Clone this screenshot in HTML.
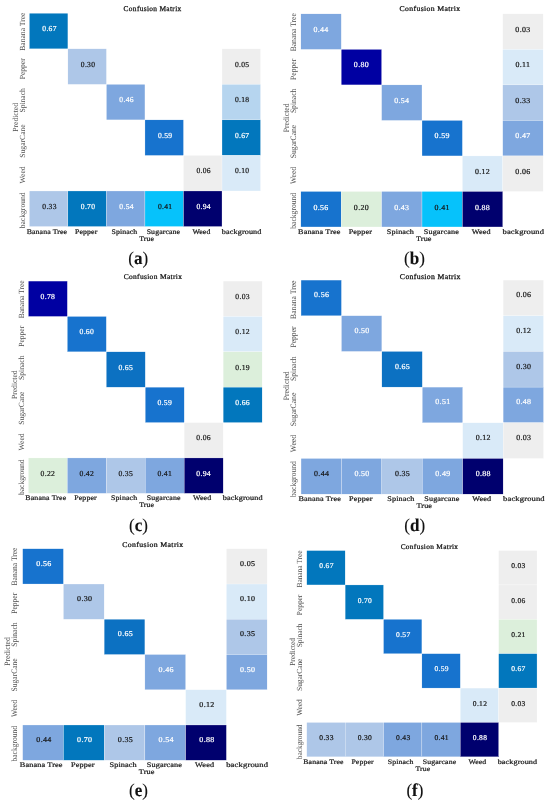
<!DOCTYPE html>
<html lang="en"><head><meta charset="utf-8"><title>Confusion Matrices</title>
<style>
html,body{margin:0;padding:0;background:#fff;}
body{width:550px;height:805px;overflow:hidden;}
svg{display:block;text-rendering:geometricPrecision;font-family:"Liberation Serif","DejaVu Serif",serif;}
rect{stroke:#fff;stroke-width:.25px;}
text{text-anchor:middle;}
.v{font-size:7.6px;letter-spacing:.3px;stroke-width:.2px;}
.w{fill:#fff;stroke:#fff;}
.k{fill:#151515;stroke:#151515;}
.xl{font-size:7.05px;fill:#1a1a1a;stroke:#1a1a1a;stroke-width:.22px;letter-spacing:.1px;}
.yl{font-size:7.8px;fill:#4d4d4d;}
.ti{font-size:7.4px;fill:#111;stroke:#111;stroke-width:.25px;letter-spacing:.33px;}
.pl{font-size:18px;fill:#111;stroke:#111;stroke-width:.12px;}
.pl tspan{font-weight:bold;}
</style></head><body>
<svg width="550" height="805" viewBox="0 0 550 805">
<rect width="550" height="805" fill="#fff"/>
<g id="panel-a" transform="translate(29.375,13.275) scale(0.9983,1.0000)">
<text class="ti" transform="translate(123.40 -2.30)">Confusion Matrix</text>
<rect x="0.00" y="0.00" width="38.59" height="35.54" fill="#0277BD"/>
<text class="v w" transform="translate(20.20 17.97)">0.67</text>
<rect x="38.59" y="35.54" width="38.59" height="35.54" fill="#AEC7E8"/>
<text class="v k" transform="translate(58.79 53.51)">0.30</text>
<rect x="192.96" y="35.54" width="38.59" height="35.54" fill="#EEEEEE"/>
<text class="v k" transform="translate(213.15 53.51)">0.05</text>
<rect x="77.18" y="71.08" width="38.59" height="35.54" fill="#7EA7DF"/>
<text class="v w" transform="translate(97.38 89.05)">0.46</text>
<rect x="192.96" y="71.08" width="38.59" height="35.54" fill="#B6D5EF"/>
<text class="v k" transform="translate(213.15 89.05)">0.18</text>
<rect x="115.78" y="106.62" width="38.59" height="35.54" fill="#1773CE"/>
<text class="v w" transform="translate(135.97 124.60)">0.59</text>
<rect x="192.96" y="106.62" width="38.59" height="35.54" fill="#0277BD"/>
<text class="v w" transform="translate(213.15 124.60)">0.67</text>
<rect x="154.37" y="142.17" width="38.59" height="35.54" fill="#EEEEEE"/>
<text class="v k" transform="translate(174.56 160.14)">0.06</text>
<rect x="192.96" y="142.17" width="38.59" height="35.54" fill="#D9EAF8"/>
<text class="v k" transform="translate(213.15 160.14)">0.10</text>
<rect x="0.00" y="177.71" width="38.59" height="35.54" fill="#AEC7E8"/>
<text class="v k" transform="translate(20.20 195.68)">0.33</text>
<rect x="38.59" y="177.71" width="38.59" height="35.54" fill="#0277BD"/>
<text class="v w" transform="translate(58.79 195.68)">0.70</text>
<rect x="77.18" y="177.71" width="38.59" height="35.54" fill="#7EA7DF"/>
<text class="v w" transform="translate(97.38 195.68)">0.54</text>
<rect x="115.78" y="177.71" width="38.59" height="35.54" fill="#06C2FB"/>
<text class="v k" transform="translate(135.97 195.68)">0.41</text>
<rect x="154.37" y="177.71" width="38.59" height="35.54" fill="#00006E"/>
<text class="v w" transform="translate(174.56 195.68)">0.94</text>
<text class="xl" transform="translate(17.60 220.82) scale(1.11 1)">Banana Tree</text>
<text class="xl" transform="translate(56.89 220.82) scale(1.11 1)">Pepper</text>
<text class="xl" transform="translate(95.18 220.82) scale(1.11 1)">Spinach</text>
<text class="xl" transform="translate(134.27 220.82) scale(1.11 1)">Sugarcane</text>
<text class="xl" transform="translate(172.36 220.82) scale(1.11 1)">Weed</text>
<text class="xl" transform="translate(212.65 220.82) scale(1.15995 1)">background</text>
<text class="xl" transform="translate(117.50 227.82) scale(1.11 1)">True</text>
<text class="yl" transform="translate(-4.10 18.37) rotate(-90) scale(0.975 1)">Banana Tree</text>
<text class="yl" transform="translate(-4.10 55.51) rotate(-90) scale(0.975 1)">Pepper</text>
<text class="yl" transform="translate(-4.10 87.05) rotate(-90) scale(0.975 1)">Spinach</text>
<text class="yl" transform="translate(-4.10 127.70) rotate(-90) scale(0.975 1)">SugarCane</text>
<text class="yl" transform="translate(-4.10 161.64) rotate(-90) scale(0.975 1)">Weed</text>
<text class="yl" transform="translate(-4.10 197.08) rotate(-90) scale(0.975 1)">background</text>
<text class="yl" transform="translate(-10.90 104.10) rotate(-90) scale(0.975 1)">Predicted</text>
</g>
<text class="pl" transform="translate(138.2,263.8) scale(0.945,1)">(<tspan>a</tspan>)</text>
<g id="panel-b" transform="translate(300.875,13.875) scale(1.0462,0.9993)">
<text class="ti" transform="translate(123.40 -3.10)">Confusion Matrix</text>
<rect x="0.00" y="0.00" width="38.59" height="35.54" fill="#7EA7DF"/>
<text class="v w" transform="translate(19.30 18.07)">0.44</text>
<rect x="192.96" y="0.00" width="38.59" height="35.54" fill="#EEEEEE"/>
<text class="v k" transform="translate(212.25 18.07)">0.03</text>
<rect x="38.59" y="35.54" width="38.59" height="35.54" fill="#0000A2"/>
<text class="v w" transform="translate(57.89 53.61)">0.80</text>
<rect x="192.96" y="35.54" width="38.59" height="35.54" fill="#D9EAF8"/>
<text class="v k" transform="translate(212.25 53.61)">0.11</text>
<rect x="77.18" y="71.08" width="38.59" height="35.54" fill="#7EA7DF"/>
<text class="v w" transform="translate(96.48 89.15)">0.54</text>
<rect x="192.96" y="71.08" width="38.59" height="35.54" fill="#AEC7E8"/>
<text class="v k" transform="translate(212.25 89.15)">0.33</text>
<rect x="115.78" y="106.62" width="38.59" height="35.54" fill="#1773CE"/>
<text class="v w" transform="translate(135.07 124.70)">0.59</text>
<rect x="192.96" y="106.62" width="38.59" height="35.54" fill="#7EA7DF"/>
<text class="v w" transform="translate(212.25 124.70)">0.47</text>
<rect x="154.37" y="142.17" width="38.59" height="35.54" fill="#D9EAF8"/>
<text class="v k" transform="translate(173.66 160.24)">0.12</text>
<rect x="192.96" y="142.17" width="38.59" height="35.54" fill="#EEEEEE"/>
<text class="v k" transform="translate(212.25 160.24)">0.06</text>
<rect x="0.00" y="177.71" width="38.59" height="35.54" fill="#1773CE"/>
<text class="v w" transform="translate(19.30 195.78)">0.56</text>
<rect x="38.59" y="177.71" width="38.59" height="35.54" fill="#DCEFDB"/>
<text class="v k" transform="translate(57.89 195.78)">0.20</text>
<rect x="77.18" y="177.71" width="38.59" height="35.54" fill="#7EA7DF"/>
<text class="v w" transform="translate(96.48 195.78)">0.43</text>
<rect x="115.78" y="177.71" width="38.59" height="35.54" fill="#06C2FB"/>
<text class="v k" transform="translate(135.07 195.78)">0.41</text>
<rect x="154.37" y="177.71" width="38.59" height="35.54" fill="#00006E"/>
<text class="v w" transform="translate(173.66 195.78)">0.88</text>
<text class="xl" transform="translate(17.60 220.38) scale(1.11 1)">Banana Tree</text>
<text class="xl" transform="translate(56.89 220.38) scale(1.11 1)">Pepper</text>
<text class="xl" transform="translate(95.18 220.38) scale(1.11 1)">Spinach</text>
<text class="xl" transform="translate(134.27 220.38) scale(1.11 1)">Sugarcane</text>
<text class="xl" transform="translate(172.36 220.38) scale(1.11 1)">Weed</text>
<text class="xl" transform="translate(212.65 220.38) scale(1.15995 1)">background</text>
<text class="xl" transform="translate(117.50 227.38) scale(1.11 1)">True</text>
<text class="yl" transform="translate(-4.80 18.37) rotate(-90) scale(0.975 1)">Banana Tree</text>
<text class="yl" transform="translate(-4.80 55.51) rotate(-90) scale(0.975 1)">Pepper</text>
<text class="yl" transform="translate(-4.80 87.05) rotate(-90) scale(0.975 1)">Spinach</text>
<text class="yl" transform="translate(-4.80 127.70) rotate(-90) scale(0.975 1)">SugarCane</text>
<text class="yl" transform="translate(-4.80 161.64) rotate(-90) scale(0.975 1)">Weed</text>
<text class="yl" transform="translate(-4.80 197.08) rotate(-90) scale(0.975 1)">background</text>
<text class="yl" transform="translate(-11.60 104.10) rotate(-90) scale(0.975 1)">Predicted</text>
</g>
<text class="pl" transform="translate(414.5,263.8) scale(0.945,1)">(<tspan>b</tspan>)</text>
<g id="panel-c" transform="translate(28.375,281.075) scale(1.0095,0.9953)">
<text class="ti" transform="translate(123.40 -1.81)">Confusion Matrix</text>
<rect x="0.00" y="0.00" width="38.59" height="35.54" fill="#0000A2"/>
<text class="v w" transform="translate(19.30 17.97)">0.78</text>
<rect x="192.96" y="0.00" width="38.59" height="35.54" fill="#EEEEEE"/>
<text class="v k" transform="translate(212.25 17.97)">0.03</text>
<rect x="38.59" y="35.54" width="38.59" height="35.54" fill="#1773CE"/>
<text class="v w" transform="translate(57.89 53.51)">0.60</text>
<rect x="192.96" y="35.54" width="38.59" height="35.54" fill="#D9EAF8"/>
<text class="v k" transform="translate(212.25 53.51)">0.12</text>
<rect x="77.18" y="71.08" width="38.59" height="35.54" fill="#0C71C2"/>
<text class="v w" transform="translate(96.48 89.05)">0.65</text>
<rect x="192.96" y="71.08" width="38.59" height="35.54" fill="#DCEFDB"/>
<text class="v k" transform="translate(212.25 89.05)">0.19</text>
<rect x="115.78" y="106.62" width="38.59" height="35.54" fill="#1773CE"/>
<text class="v w" transform="translate(135.07 124.60)">0.59</text>
<rect x="192.96" y="106.62" width="38.59" height="35.54" fill="#0277BD"/>
<text class="v w" transform="translate(212.25 124.60)">0.66</text>
<rect x="154.37" y="142.17" width="38.59" height="35.54" fill="#EEEEEE"/>
<text class="v k" transform="translate(173.66 160.14)">0.06</text>
<rect x="0.00" y="177.71" width="38.59" height="35.54" fill="#DCEFDB"/>
<text class="v k" transform="translate(19.30 195.68)">0.22</text>
<rect x="38.59" y="177.71" width="38.59" height="35.54" fill="#7EA7DF"/>
<text class="v k" transform="translate(57.89 195.68)">0.42</text>
<rect x="77.18" y="177.71" width="38.59" height="35.54" fill="#AEC7E8"/>
<text class="v k" transform="translate(96.48 195.68)">0.35</text>
<rect x="115.78" y="177.71" width="38.59" height="35.54" fill="#7EA7DF"/>
<text class="v k" transform="translate(135.07 195.68)">0.41</text>
<rect x="154.37" y="177.71" width="38.59" height="35.54" fill="#00006E"/>
<text class="v w" transform="translate(173.66 195.68)">0.94</text>
<text class="xl" transform="translate(17.30 220.06) scale(1.11 1)">Banana Tree</text>
<text class="xl" transform="translate(56.59 220.06) scale(1.11 1)">Pepper</text>
<text class="xl" transform="translate(94.88 220.06) scale(1.11 1)">Spinach</text>
<text class="xl" transform="translate(133.97 220.06) scale(1.11 1)">Sugarcane</text>
<text class="xl" transform="translate(172.06 220.06) scale(1.11 1)">Weed</text>
<text class="xl" transform="translate(212.35 220.06) scale(1.15995 1)">background</text>
<text class="xl" transform="translate(117.20 227.09) scale(1.11 1)">True</text>
<text class="yl" transform="translate(-4.80 18.37) rotate(-90) scale(0.975 1)">Banana Tree</text>
<text class="yl" transform="translate(-4.80 55.51) rotate(-90) scale(0.975 1)">Pepper</text>
<text class="yl" transform="translate(-4.80 87.05) rotate(-90) scale(0.975 1)">Spinach</text>
<text class="yl" transform="translate(-4.80 127.70) rotate(-90) scale(0.975 1)">SugarCane</text>
<text class="yl" transform="translate(-4.80 161.64) rotate(-90) scale(0.975 1)">Weed</text>
<text class="yl" transform="translate(-4.80 197.08) rotate(-90) scale(0.975 1)">background</text>
<text class="yl" transform="translate(-11.60 104.10) rotate(-90) scale(0.975 1)">Predicted</text>
</g>
<text class="pl" transform="translate(138.5,530.9) scale(0.945,1)">(<tspan>c</tspan>)</text>
<g id="panel-d" transform="translate(301.025,280.075) scale(1.0473,1.0038)">
<text class="ti" transform="translate(123.40 -1.49)">Confusion Matrix</text>
<rect x="0.00" y="0.00" width="38.59" height="35.54" fill="#1773CE"/>
<text class="v w" transform="translate(19.70 17.07)">0.56</text>
<rect x="192.96" y="0.00" width="38.59" height="35.54" fill="#EEEEEE"/>
<text class="v k" transform="translate(212.65 17.07)">0.06</text>
<rect x="38.59" y="35.54" width="38.59" height="35.54" fill="#7EA7DF"/>
<text class="v w" transform="translate(58.29 52.61)">0.50</text>
<rect x="192.96" y="35.54" width="38.59" height="35.54" fill="#D9EAF8"/>
<text class="v k" transform="translate(212.65 52.61)">0.12</text>
<rect x="77.18" y="71.08" width="38.59" height="35.54" fill="#0C71C2"/>
<text class="v w" transform="translate(96.88 88.15)">0.65</text>
<rect x="192.96" y="71.08" width="38.59" height="35.54" fill="#AEC7E8"/>
<text class="v k" transform="translate(212.65 88.15)">0.30</text>
<rect x="115.78" y="106.62" width="38.59" height="35.54" fill="#7EA7DF"/>
<text class="v w" transform="translate(135.47 123.70)">0.51</text>
<rect x="192.96" y="106.62" width="38.59" height="35.54" fill="#7EA7DF"/>
<text class="v w" transform="translate(212.65 123.70)">0.48</text>
<rect x="154.37" y="142.17" width="38.59" height="35.54" fill="#D9EAF8"/>
<text class="v k" transform="translate(174.06 159.24)">0.12</text>
<rect x="192.96" y="142.17" width="38.59" height="35.54" fill="#EEEEEE"/>
<text class="v k" transform="translate(212.65 159.24)">0.03</text>
<rect x="0.00" y="177.71" width="38.59" height="35.54" fill="#7EA7DF"/>
<text class="v k" transform="translate(19.70 194.78)">0.44</text>
<rect x="38.59" y="177.71" width="38.59" height="35.54" fill="#7EA7DF"/>
<text class="v w" transform="translate(58.29 194.78)">0.50</text>
<rect x="77.18" y="177.71" width="38.59" height="35.54" fill="#AEC7E8"/>
<text class="v k" transform="translate(96.88 194.78)">0.35</text>
<rect x="115.78" y="177.71" width="38.59" height="35.54" fill="#7EA7DF"/>
<text class="v w" transform="translate(135.47 194.78)">0.49</text>
<rect x="154.37" y="177.71" width="38.59" height="35.54" fill="#00006E"/>
<text class="v w" transform="translate(174.06 194.78)">0.88</text>
<text class="xl" transform="translate(17.80 220.20) scale(1.11 1)">Banana Tree</text>
<text class="xl" transform="translate(57.09 220.20) scale(1.11 1)">Pepper</text>
<text class="xl" transform="translate(95.38 220.20) scale(1.11 1)">Spinach</text>
<text class="xl" transform="translate(134.47 220.20) scale(1.11 1)">Sugarcane</text>
<text class="xl" transform="translate(172.56 220.20) scale(1.11 1)">Weed</text>
<text class="xl" transform="translate(212.85 220.20) scale(1.15995 1)">background</text>
<text class="xl" transform="translate(117.70 227.17) scale(1.11 1)">True</text>
<text class="yl" transform="translate(-5.10 19.57) rotate(-90) scale(0.975 1)">Banana Tree</text>
<text class="yl" transform="translate(-5.10 56.71) rotate(-90) scale(0.975 1)">Pepper</text>
<text class="yl" transform="translate(-5.10 88.25) rotate(-90) scale(0.975 1)">Spinach</text>
<text class="yl" transform="translate(-5.10 128.90) rotate(-90) scale(0.975 1)">SugarCane</text>
<text class="yl" transform="translate(-5.10 162.84) rotate(-90) scale(0.975 1)">Weed</text>
<text class="yl" transform="translate(-5.10 198.28) rotate(-90) scale(0.975 1)">background</text>
<text class="yl" transform="translate(-11.90 105.30) rotate(-90) scale(0.975 1)">Predicted</text>
</g>
<text class="pl" transform="translate(414.7,530.9) scale(0.945,1)">(<tspan>d</tspan>)</text>
<g id="panel-e" transform="translate(22.675,548.775) scale(1.0557,0.9916)">
<text class="ti" transform="translate(123.40 -2.22)">Confusion Matrix</text>
<rect x="0.00" y="0.00" width="38.59" height="35.54" fill="#1773CE"/>
<text class="v w" transform="translate(20.20 17.17)">0.56</text>
<rect x="192.96" y="0.00" width="38.59" height="35.54" fill="#EEEEEE"/>
<text class="v k" transform="translate(213.15 17.17)">0.05</text>
<rect x="38.59" y="35.54" width="38.59" height="35.54" fill="#AEC7E8"/>
<text class="v k" transform="translate(58.79 52.71)">0.30</text>
<rect x="192.96" y="35.54" width="38.59" height="35.54" fill="#D9EAF8"/>
<text class="v k" transform="translate(213.15 52.71)">0.10</text>
<rect x="77.18" y="71.08" width="38.59" height="35.54" fill="#0C71C2"/>
<text class="v w" transform="translate(97.38 88.25)">0.65</text>
<rect x="192.96" y="71.08" width="38.59" height="35.54" fill="#AEC7E8"/>
<text class="v k" transform="translate(213.15 88.25)">0.35</text>
<rect x="115.78" y="106.62" width="38.59" height="35.54" fill="#7EA7DF"/>
<text class="v w" transform="translate(135.97 123.80)">0.46</text>
<rect x="192.96" y="106.62" width="38.59" height="35.54" fill="#7EA7DF"/>
<text class="v w" transform="translate(213.15 123.80)">0.50</text>
<rect x="154.37" y="142.17" width="38.59" height="35.54" fill="#D9EAF8"/>
<text class="v k" transform="translate(174.56 159.34)">0.12</text>
<rect x="0.00" y="177.71" width="38.59" height="35.54" fill="#7EA7DF"/>
<text class="v k" transform="translate(20.20 194.88)">0.44</text>
<rect x="38.59" y="177.71" width="38.59" height="35.54" fill="#0277BD"/>
<text class="v w" transform="translate(58.79 194.88)">0.70</text>
<rect x="77.18" y="177.71" width="38.59" height="35.54" fill="#AEC7E8"/>
<text class="v k" transform="translate(97.38 194.88)">0.35</text>
<rect x="115.78" y="177.71" width="38.59" height="35.54" fill="#7EA7DF"/>
<text class="v w" transform="translate(135.97 194.88)">0.54</text>
<rect x="154.37" y="177.71" width="38.59" height="35.54" fill="#00006E"/>
<text class="v w" transform="translate(174.56 194.88)">0.88</text>
<text class="xl" transform="translate(17.60 220.18) scale(1.11 1)">Banana Tree</text>
<text class="xl" transform="translate(56.89 220.18) scale(1.11 1)">Pepper</text>
<text class="xl" transform="translate(95.18 220.18) scale(1.11 1)">Spinach</text>
<text class="xl" transform="translate(134.27 220.18) scale(1.11 1)">Sugarcane</text>
<text class="xl" transform="translate(172.36 220.18) scale(1.11 1)">Weed</text>
<text class="xl" transform="translate(212.65 220.18) scale(1.15995 1)">background</text>
<text class="xl" transform="translate(117.50 227.24) scale(1.11 1)">True</text>
<text class="yl" transform="translate(-5.00 17.87) rotate(-90) scale(0.975 1)">Banana Tree</text>
<text class="yl" transform="translate(-5.00 55.01) rotate(-90) scale(0.975 1)">Pepper</text>
<text class="yl" transform="translate(-5.00 86.55) rotate(-90) scale(0.975 1)">Spinach</text>
<text class="yl" transform="translate(-5.00 127.20) rotate(-90) scale(0.975 1)">SugarCane</text>
<text class="yl" transform="translate(-5.00 161.14) rotate(-90) scale(0.975 1)">Weed</text>
<text class="yl" transform="translate(-5.00 196.58) rotate(-90) scale(0.975 1)">background</text>
<text class="yl" transform="translate(-11.80 103.60) rotate(-90) scale(0.975 1)">Predicted</text>
</g>
<text class="pl" transform="translate(138.5,796.3) scale(0.945,1)">(<tspan>e</tspan>)</text>
<g id="panel-f" transform="translate(306.775,550.575) scale(0.9944,0.9672)">
<text class="ti" transform="translate(123.40 -2.07)">Confusion Matrix</text>
<rect x="0.00" y="0.00" width="38.59" height="35.54" fill="#0277BD"/>
<text class="v w" transform="translate(19.90 18.37)">0.67</text>
<rect x="192.96" y="0.00" width="38.59" height="35.54" fill="#EEEEEE"/>
<text class="v k" transform="translate(212.85 18.37)">0.03</text>
<rect x="38.59" y="35.54" width="38.59" height="35.54" fill="#0277BD"/>
<text class="v w" transform="translate(58.49 53.91)">0.70</text>
<rect x="192.96" y="35.54" width="38.59" height="35.54" fill="#EEEEEE"/>
<text class="v k" transform="translate(212.85 53.91)">0.06</text>
<rect x="77.18" y="71.08" width="38.59" height="35.54" fill="#1773CE"/>
<text class="v w" transform="translate(97.08 89.45)">0.57</text>
<rect x="192.96" y="71.08" width="38.59" height="35.54" fill="#DCEFDB"/>
<text class="v k" transform="translate(212.85 89.45)">0.21</text>
<rect x="115.78" y="106.62" width="38.59" height="35.54" fill="#1773CE"/>
<text class="v w" transform="translate(135.67 125.00)">0.59</text>
<rect x="192.96" y="106.62" width="38.59" height="35.54" fill="#0277BD"/>
<text class="v w" transform="translate(212.85 125.00)">0.67</text>
<rect x="154.37" y="142.17" width="38.59" height="35.54" fill="#D9EAF8"/>
<text class="v k" transform="translate(174.26 160.54)">0.12</text>
<rect x="192.96" y="142.17" width="38.59" height="35.54" fill="#EEEEEE"/>
<text class="v k" transform="translate(212.85 160.54)">0.03</text>
<rect x="0.00" y="177.71" width="38.59" height="35.54" fill="#AEC7E8"/>
<text class="v k" transform="translate(19.90 196.08)">0.33</text>
<rect x="38.59" y="177.71" width="38.59" height="35.54" fill="#AEC7E8"/>
<text class="v k" transform="translate(58.49 196.08)">0.30</text>
<rect x="77.18" y="177.71" width="38.59" height="35.54" fill="#7EA7DF"/>
<text class="v k" transform="translate(97.08 196.08)">0.43</text>
<rect x="115.78" y="177.71" width="38.59" height="35.54" fill="#7EA7DF"/>
<text class="v k" transform="translate(135.67 196.08)">0.41</text>
<rect x="154.37" y="177.71" width="38.59" height="35.54" fill="#00006E"/>
<text class="v w" transform="translate(174.26 196.08)">0.88</text>
<text class="xl" transform="translate(16.80 220.77) scale(1.11 1)">Banana Tree</text>
<text class="xl" transform="translate(56.09 220.77) scale(1.11 1)">Pepper</text>
<text class="xl" transform="translate(94.38 220.77) scale(1.11 1)">Spinach</text>
<text class="xl" transform="translate(133.47 220.77) scale(1.11 1)">Sugarcane</text>
<text class="xl" transform="translate(171.56 220.77) scale(1.11 1)">Weed</text>
<text class="xl" transform="translate(211.85 220.77) scale(1.15995 1)">background</text>
<text class="xl" transform="translate(116.70 228.01) scale(1.11 1)">True</text>
<text class="yl" transform="translate(-4.80 19.07) rotate(-90) scale(0.975 1)">Banana Tree</text>
<text class="yl" transform="translate(-4.80 56.21) rotate(-90) scale(0.975 1)">Pepper</text>
<text class="yl" transform="translate(-4.80 87.75) rotate(-90) scale(0.975 1)">Spinach</text>
<text class="yl" transform="translate(-4.80 128.40) rotate(-90) scale(0.975 1)">SugarCane</text>
<text class="yl" transform="translate(-4.80 162.34) rotate(-90) scale(0.975 1)">Weed</text>
<text class="yl" transform="translate(-4.80 197.78) rotate(-90) scale(0.975 1)">background</text>
<text class="yl" transform="translate(-11.60 104.80) rotate(-90) scale(0.975 1)">Predicted</text>
</g>
<text class="pl" transform="translate(414.9,795.6) scale(0.945,1)">(<tspan>f</tspan>)</text>
</svg></body></html>
